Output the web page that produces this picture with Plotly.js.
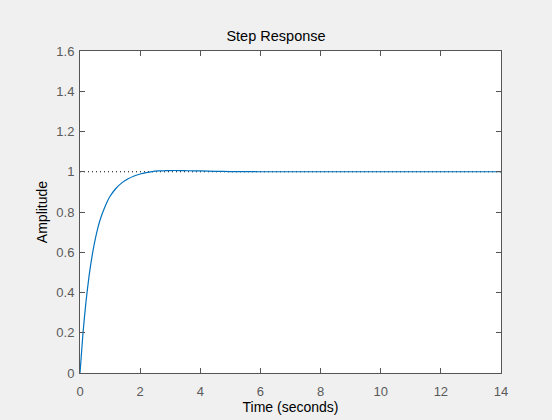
<!DOCTYPE html>
<html>
<head>
<meta charset="utf-8">
<script src="https://cdn.plot.ly/plotly-3.0.1.min.js"></script>
<style>html,body{margin:0;padding:0;background:#f0f0f0;}#plot{width:552px;height:420px;}</style>
</head>
<body>
<div id="plot"></div>
<script>
// Step response samples
var timeSec = [0, 0.1, 0.2, 0.3, 0.4, 0.5, 0.6, 0.7, 0.8, 0.9, 1.0, 1.2, 1.4, 1.6, 1.8, 2.0, 2.2, 2.4, 2.6, 2.8, 3.0, 3.3, 3.6, 4.0, 4.5, 5.0, 5.5, 6.0, 7, 8, 9, 10, 11, 12, 13, 14];
var amplitude = [0, 0.2, 0.355, 0.48, 0.58, 0.66, 0.725, 0.775, 0.815, 0.85, 0.878, 0.918, 0.946, 0.965, 0.979, 0.989, 0.996, 1.001, 1.004, 1.005, 1.006, 1.006, 1.005, 1.004, 1.002, 1.001, 1.0005, 1.0, 1.0, 1.0, 1.0, 1.0, 1.0, 1.0, 1.0, 1.0];
var steadyX = [0, 14];
var steadyY = [1, 1];
var xTicks = [0, 2, 4, 6, 8, 10, 12, 14];
var yTicks = [0, 0.2, 0.4, 0.6, 0.8, 1, 1.2, 1.4, 1.6];

var traces = [
  {x: steadyX, y: steadyY, mode: 'lines', line: {color: '#000000', width: 1, dash: '1px,3px'}, hoverinfo: 'skip'},
  {x: timeSec, y: amplitude, mode: 'lines', line: {color: '#0072bd', width: 1.2, shape: 'spline', smoothing: 0.6}}
];
var axisCommon = {
  showline: true, mirror: 'ticks', linecolor: '#555555', linewidth: 1,
  ticks: 'inside', ticklen: 5, tickcolor: '#555555', tickwidth: 1,
  showgrid: false, zeroline: false,
  tickfont: {family: 'Liberation Sans, Arial, sans-serif', size: 13, color: '#5a5a5a'}
};
var layout = {
  width: 552, height: 420,
  paper_bgcolor: '#f0f0f0', plot_bgcolor: '#ffffff',
  margin: {l: 80, r: 51, t: 51, b: 47},
  showlegend: false,
  title: {text: 'Step Response', font: {family: 'Liberation Sans, Arial, sans-serif', size: 14.5, color: '#000000'}, x: 0.5, xanchor: 'center', y: 1 - 36/420, yanchor: 'middle'},
  xaxis: Object.assign({}, axisCommon, {range: [0, 14], tickvals: xTicks, ticktext: xTicks.map(String), ticklabelstandoff: 6,
    title: {text: 'Time (seconds)', font: {family: 'Liberation Sans, Arial, sans-serif', size: 14, color: '#000000'}, standoff: 3}}),
  yaxis: Object.assign({}, axisCommon, {range: [0, 1.6], tickvals: yTicks, ticktext: yTicks.map(String), ticklabelstandoff: 2,
    title: {text: 'Amplitude', font: {family: 'Liberation Sans, Arial, sans-serif', size: 14, color: '#000000'}, standoff: 5}})
};
Plotly.newPlot('plot', traces, layout, {displayModeBar: false, staticPlot: true});
</script>
</body>
</html>
